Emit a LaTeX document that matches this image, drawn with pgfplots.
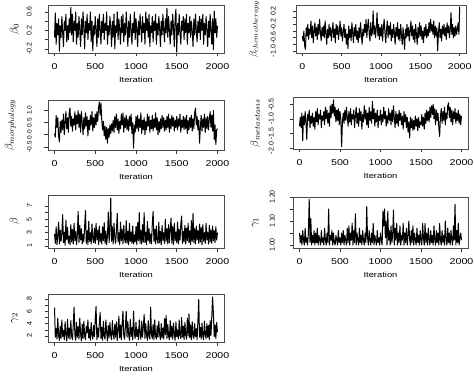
\documentclass[border=0pt]{standalone}
\usepackage{pgfplots}
\usepackage{pgfplotstable}
\pgfplotsset{compat=1.18}
\usepackage{fontspec}
\setmainfont{Liberation Sans}
\newfontfamily\xfont[FakeStretch=1.25]{Liberation Sans}
\pgfplotstableread{
it b0 bc bm bmt be g1 g2
0 0.05 -0.55 0.05 -1.25 2.8 1.05 6.6
10 0.58 -0.70 -0.10 -0.95 1.4 1.01 1.8
20 -0.10 -0.40 0.80 -1.30 3.9 1.04 3.2
30 0.35 -0.85 0.30 -0.80 1.2 1.00 1.5
40 0.10 -0.95 0.70 -1.75 2.6 1.06 4.9
50 0.45 -0.30 -0.05 -0.90 4.6 1.02 2.1
60 -0.25 -0.55 -0.30 -1.20 1.3 1.00 1.3
70 0.30 -0.20 0.55 -0.75 3.4 1.07 3.6
80 0.05 -0.65 0.10 -1.10 1.7 1.01 1.6
90 0.50 -0.35 0.60 -1.70 2.9 1.03 4.6
100 0.15 -0.50 0.20 -0.85 5.7 1.00 1.9
110 -0.15 -0.10 0.85 -1.05 1.5 1.05 2.9
120 0.40 -0.60 0.00 -0.70 3.1 1.19 1.4
130 0.20 -0.25 0.50 -1.30 1.1 1.01 4.3
140 0.55 -0.75 0.95 -0.90 4.9 1.11 2.2
150 -0.05 -0.40 0.25 -1.15 2.0 1.00 1.2
160 0.30 -0.15 0.70 -0.80 3.8 1.04 4.7
170 0.00 -0.55 0.10 -1.25 1.4 1.01 1.7
180 0.45 -0.30 0.90 -0.95 2.5 1.06 3.3
190 0.15 -0.65 1.10 -1.35 1.2 1.00 1.5
200 0.70 -0.20 0.35 -0.75 4.2 1.05 4.5
210 0.10 -0.50 0.75 -1.10 1.6 1.01 2.0
220 0.55 -0.05 0.15 -0.65 3.5 1.07 1.4
230 -0.05 -0.45 0.65 -1.20 1.3 1.00 3.8
240 0.40 -0.70 0.40 -0.85 4.4 1.04 6.7
250 0.20 -0.30 0.95 -1.00 1.8 1.02 2.1
260 0.60 -0.55 0.20 -0.70 3.2 1.00 1.3
270 -0.10 -0.25 0.80 -1.30 1.2 1.06 4.2
280 0.35 -0.60 0.45 -0.90 2.7 1.01 1.8
290 0.05 -0.10 1.00 -1.05 6.2 1.03 3.5
300 0.50 -0.45 0.30 -0.75 1.5 1.00 1.5
310 0.20 -0.80 0.85 -1.20 4.1 1.07 4.9
320 -0.15 -0.35 0.10 -0.60 1.9 1.02 2.3
330 0.45 -0.60 0.95 -1.00 3.6 1.00 1.2
340 0.10 -0.20 0.50 -0.70 1.3 1.05 3.9
350 0.60 -0.55 0.00 -1.15 2.8 1.01 1.6
360 0.25 -0.30 0.70 -0.80 1.6 1.15 4.4
370 -0.20 -0.70 0.25 -1.25 4.0 1.00 2.0
380 0.40 -0.40 0.90 -0.55 6.3 1.04 1.4
390 0.15 -0.15 0.35 -0.95 1.4 1.02 3.6
400 0.55 -0.60 0.75 -0.50 3.3 1.06 2.5
410 0.00 -0.35 -0.05 -0.80 1.2 1.00 4.6
420 0.35 -0.75 0.60 -0.35 4.7 1.05 1.7
430 0.20 -0.20 0.20 -0.90 1.7 1.01 3.1
440 0.60 -0.50 0.80 -0.60 3.0 1.00 1.3
450 -0.05 -0.25 0.40 -1.10 1.3 1.04 4.2
460 0.40 -0.65 0.95 -0.70 4.3 1.02 2.2
470 -0.24 -0.40 0.15 -1.05 2.1 1.00 1.5
480 0.30 -0.10 0.70 -0.65 1.5 1.06 3.7
490 0.10 -0.55 0.30 -1.20 3.7 1.01 1.9
500 0.50 -0.30 0.85 -0.75 1.4 1.03 4.8
510 0.20 -0.70 0.40 -1.00 4.4 1.00 6.8
520 -0.15 -0.45 0.95 -1.95 1.9 1.05 1.4
530 0.45 -0.20 0.55 -1.10 3.4 1.01 3.3
540 0.05 -0.60 1.10 -0.80 1.2 1.06 1.8
550 0.55 -0.35 1.35 -1.15 4.0 1.00 4.1
560 0.25 -0.80 0.80 -0.70 1.6 1.04 5.8
570 -0.10 -0.50 1.30 -1.05 2.9 1.02 1.6
580 0.40 -0.93 0.60 -0.60 1.3 1.00 3.4
590 0.15 -0.25 0.20 -0.95 3.9 1.07 1.3
600 0.55 -0.60 0.55 -1.25 1.8 1.01 4.4
610 0.00 -0.35 -0.05 -0.75 4.5 1.08 2.0
620 0.35 -0.70 0.35 -1.10 1.4 1.00 1.5
630 0.20 -0.15 -0.20 -0.65 3.2 1.05 4.6
640 0.60 -0.45 0.30 -1.20 1.2 1.02 2.6
650 -0.10 -0.75 -0.35 -0.85 2.6 1.09 1.2
660 0.30 -0.30 0.25 -1.00 6.1 1.00 3.7
670 0.10 -0.55 -0.10 -0.70 1.5 1.06 1.7
680 0.50 -0.20 0.40 -1.30 3.6 1.01 4.2
690 0.25 -0.65 0.05 -0.90 8.2 1.13 2.1
700 -0.15 -0.40 0.45 -0.60 1.7 1.00 1.4
710 0.40 -0.75 0.15 -1.15 3.9 1.05 4.5
720 0.05 -0.30 0.60 -0.80 1.3 1.02 2.3
730 0.55 -0.60 0.10 -1.25 4.4 1.00 1.5
740 -0.20 -0.15 0.75 -0.65 2.2 1.07 3.9
750 0.30 -0.50 0.30 -1.05 1.4 1.01 1.8
760 0.15 -0.80 0.85 -0.75 3.3 1.04 4.3
770 0.60 -0.35 0.20 -1.35 5.9 1.00 1.3
780 0.00 -0.55 0.65 -0.85 1.6 1.06 3.0
790 0.45 -0.20 0.05 -1.10 3.0 1.02 5.2
800 0.20 -0.45 0.55 -0.55 1.2 1.00 1.7
810 -0.10 -0.05 0.25 -1.00 4.6 1.05 3.8
820 0.50 -0.60 0.85 -0.70 1.8 1.01 1.4
830 0.15 -0.25 0.40 -1.20 3.5 1.16 4.1
840 0.55 -0.05 0.90 -0.80 1.3 1.03 6.0
850 -0.05 -0.50 0.10 -1.30 4.1 1.00 2.0
860 0.35 -0.70 0.70 -0.60 2.0 1.06 1.5
870 0.10 -0.15 0.30 -1.05 1.5 1.02 3.6
880 0.60 -0.55 0.80 -0.75 4.8 1.00 6.0
890 0.25 -0.45 0.20 -1.15 1.4 1.05 1.8
900 -0.15 0.20 0.65 -0.40 3.2 1.01 4.3
910 0.40 -0.50 0.15 -1.00 1.2 1.09 2.2
920 0.05 -0.25 0.75 -0.65 4.4 1.00 1.3
930 0.55 -0.60 0.35 -1.25 1.7 1.04 4.7
940 0.20 -0.30 0.85 -0.80 3.1 1.02 1.9
950 -0.10 0.15 0.05 -1.10 1.4 1.00 3.4
960 0.35 -0.55 0.50 -0.70 4.0 1.06 1.4
970 0.15 -0.20 -0.55 -1.30 1.3 1.01 6.0
980 0.60 -0.65 0.40 -0.90 2.7 1.03 2.4
990 0.00 -0.30 0.10 -1.05 1.6 1.00 1.6
1000 0.45 -0.55 0.75 -0.70 3.9 1.05 4.2
1010 0.20 -0.20 0.25 -1.20 1.2 1.02 1.9
1020 -0.15 -0.70 0.80 -0.85 4.5 1.00 3.1
1030 0.40 -0.30 0.15 -1.10 1.8 1.14 1.4
1040 0.10 -0.05 0.65 -0.60 6.0 1.08 4.6
1050 0.55 -0.45 0.30 -1.00 1.4 1.15 2.3
1060 0.25 -0.75 0.90 -0.75 3.4 1.03 1.5
1070 -0.05 -0.35 0.05 -1.25 1.3 1.10 4.4
1080 0.50 -0.10 0.60 -0.90 4.2 1.00 1.8
1090 0.15 -0.60 0.20 -1.15 1.6 1.14 3.5
1100 0.35 -0.25 0.70 -0.65 6.0 1.02 5.5
1110 -0.10 -0.50 0.00 -1.05 1.5 1.06 1.6
1120 0.60 -0.15 0.55 -0.80 3.1 1.00 4.0
1130 0.20 -0.70 0.20 -1.20 1.2 1.08 2.1
1140 0.45 -0.35 0.85 -0.70 4.7 1.01 1.3
1150 0.05 -0.60 0.35 -1.10 1.8 1.04 4.5
1160 0.55 -0.20 0.75 -0.55 3.6 1.145 2.0
1170 -0.15 -0.45 0.10 -0.95 1.4 1.00 1.5
1180 0.30 -0.80 0.60 -1.30 2.8 1.07 6.7
1190 0.15 -0.30 0.25 -0.75 1.3 1.02 2.2
1200 0.50 -0.55 0.80 -1.15 4.3 1.09 1.6
1210 -0.05 -0.15 0.15 -0.85 6.2 1.00 3.9
1220 0.40 -0.65 0.65 -1.25 1.7 1.05 1.4
1230 0.20 -0.35 0.30 -0.70 3.5 1.01 4.6
1240 0.55 -0.70 0.90 -1.05 1.3 1.08 2.0
1250 -0.10 -0.20 0.20 -0.80 4.0 1.00 1.5
1260 0.35 -0.50 0.70 -1.20 1.9 1.04 3.7
1270 0.10 -0.80 0.00 -0.90 1.4 1.02 1.8
1280 0.50 -0.30 0.55 -1.35 4.6 1.09 4.4
1290 0.25 -0.60 0.10 -0.75 1.5 1.00 2.3
1300 -0.15 -0.95 0.65 -1.10 3.2 1.05 1.4
1310 0.40 -0.35 0.25 -0.85 1.2 1.01 4.0
1320 0.10 -0.60 0.80 -1.30 4.1 1.07 1.7
1330 0.55 -0.20 0.30 -0.95 1.8 1.00 3.3
1340 0.20 -0.55 0.70 -1.45 3.0 1.04 1.5
1350 -0.05 -0.30 0.15 -1.10 1.4 1.10 4.8
1360 0.45 -0.70 0.60 -1.65 5.0 1.02 2.2
1370 0.15 -0.40 0.20 -0.95 1.7 1.00 5.3
1380 0.68 -0.10 0.75 -1.30 3.6 1.06 1.6
1390 0.05 -0.55 0.30 -1.00 1.3 1.01 3.9
1400 0.50 -0.25 0.85 -1.40 4.2 1.08 2.0
1410 0.20 -0.65 0.10 -1.05 1.5 1.00 1.4
1420 -0.10 -0.35 0.65 -1.35 3.4 1.05 4.5
1430 0.40 -0.75 0.25 -0.90 5.2 1.02 1.8
1440 0.10 -0.20 0.80 -1.25 1.4 1.00 3.6
1450 0.55 -0.50 0.35 -1.00 3.9 1.07 1.5
1460 0.25 -0.80 0.70 -1.40 1.2 1.01 4.1
1470 -0.15 -0.30 0.15 -0.95 4.4 1.04 2.3
1480 0.45 -0.60 0.60 -1.30 1.8 1.00 1.3
1490 0.66 -0.15 0.30 -1.10 3.1 1.06 4.3
1500 -0.27 -0.55 0.75 -1.20 1.5 1.02 1.9
1510 0.35 -0.25 0.20 -0.85 4.6 1.00 3.0
1520 0.10 -0.65 0.65 -1.25 1.3 1.09 1.5
1530 0.55 -0.40 0.35 -0.95 3.5 1.03 4.6
1540 0.15 -0.75 0.85 -1.35 1.9 1.00 2.1
1550 -0.10 -0.30 0.10 -0.80 4.3 1.09 1.6
1560 0.40 -0.55 0.60 -1.15 5.5 1.01 5.0
1570 0.20 -0.20 0.30 -0.70 1.4 1.05 1.8
1580 0.50 -0.60 0.75 -1.05 3.2 1.00 3.6
1590 0.00 -0.35 0.20 -0.75 1.6 1.07 1.4
1600 0.45 -0.55 0.70 -1.10 4.1 1.02 4.2
1610 0.15 -0.15 0.25 -0.60 1.3 1.00 2.2
1620 0.55 -0.45 0.80 -0.95 3.7 1.06 1.5
1630 -0.10 -0.05 0.05 -0.55 1.8 1.01 4.9
1640 0.35 -0.40 0.60 -0.85 4.4 1.04 2.0
1650 0.15 -0.20 0.20 -0.50 1.5 1.00 5.6
1660 0.50 -0.50 0.70 -1.00 3.3 1.08 1.7
1670 0.05 -0.10 0.30 -0.65 1.2 1.02 3.8
1680 0.40 -0.60 0.80 -1.20 4.8 1.00 1.4
1690 0.20 -0.25 0.15 -0.70 1.7 1.06 4.3
1700 -0.15 -0.55 0.65 -1.05 5.9 1.01 2.1
1710 0.45 -0.30 0.25 -0.80 1.5 1.05 1.6
1720 0.10 -1.00 0.90 -1.30 3.6 1.00 4.0
1730 0.55 -0.45 1.10 -1.60 1.3 1.09 1.9
1740 0.20 -0.15 0.40 -0.90 4.0 1.02 3.2
1750 -0.05 -0.60 0.75 -0.65 1.9 1.00 1.4
1760 0.40 -0.35 0.20 -1.15 3.3 1.06 4.6
1770 0.15 -0.70 0.60 -0.75 1.4 1.01 7.9
1780 0.50 -0.25 -0.35 -1.05 4.3 1.04 1.8
1790 0.00 -0.50 0.30 -0.60 1.6 1.00 3.4
1800 0.45 -0.20 0.80 -1.20 3.8 1.10 1.5
1810 0.20 -0.55 0.15 -0.80 1.2 1.02 4.1
1820 0.55 -0.30 0.65 -1.00 4.2 1.00 2.0
1830 -0.10 -0.65 0.30 -0.55 1.7 1.07 1.4
1840 0.35 -0.15 0.85 -0.45 3.0 1.01 4.4
1850 0.10 -0.45 0.10 -0.95 1.4 1.05 2.2
1860 0.50 -0.25 0.70 -0.60 4.4 1.00 1.6
1870 0.20 -0.60 0.25 -1.10 1.9 1.06 4.0
1880 -0.15 -0.35 0.75 -0.70 3.1 1.02 1.8
1890 0.40 0.15 0.20 -1.20 1.3 1.00 3.7
1900 0.05 -0.50 0.65 -0.75 4.1 1.08 1.4
1910 0.55 -0.20 0.95 -1.00 1.6 1.02 4.5
1920 0.20 -0.60 0.30 -0.65 3.4 1.17 2.1
1930 -0.10 -0.30 0.80 -1.15 1.4 1.00 5.1
1940 0.45 -0.55 0.15 -0.80 4.0 1.06 8.3
1950 -0.22 -0.25 1.00 -1.05 1.8 1.01 5.6
1960 0.62 -0.50 -0.20 -0.70 3.3 1.09 1.9
1970 0.15 -0.35 0.40 -1.15 1.5 1.00 3.8
1980 0.45 -0.15 -0.40 -0.85 3.9 1.03 1.6
1990 0.05 -0.50 0.20 -1.20 1.9 1.05 4.2
2000 0.30 0.33 0.25 -0.90 3.0 1.02 2.6
}\trace
\pgfplotsset{
  tr/.style={
    scale only axis, anchor=south west,
    xmin=-80, xmax=2080,
    xtick={0,500,1000,1500,2000},
    xticklabels={0,500,1000,1500,2000},
    tick pos=left, tick align=outside,
    major tick length=3.5pt,
    tick style={black!80, line width=0.5pt},
    axis line style={black!70, line width=0.6pt},
    every tick label/.append style={inner sep=0pt},
    xticklabel style={anchor=north, font=\xfont\fontsize{8.5}{10}\selectfont},
    xticklabel shift=7pt,
    yticklabel style={rotate=90, anchor=south, font=\fontsize{7}{8}\selectfont},
    yticklabel shift=12.5pt,
    xlabel={Iteration},
    xlabel style={at={(axis description cs:0.5,0)}, anchor=center, yshift=-27pt, font=\xfont\fontsize{7.5}{9}\selectfont},
    ylabel style={anchor=center, font=\fontsize{11}{13}\selectfont},
  },
  tl/.style={line width=1.0pt, black, line join=round},
}
\begin{document}
\begin{tikzpicture}
\path[use as bounding box] (0,0) rectangle (474pt,378pt);
% panel 1
\begin{axis}[tr, at={(48pt,325pt)}, width=176pt, height=48pt,
  ymin=-0.29, ymax=0.75, ytick={-0.2,0,0.2,0.4,0.6}, yticklabels={-0.2,,0.2,,0.6},
  ylabel={$\beta_0$}, ylabel style={at={(axis description cs:-0.19,0.5)}}]
\addplot[tl] table[x=it, y=b0] {\trace};
\end{axis}
% panel 2
\begin{axis}[tr, at={(296pt,325pt)}, width=170pt, height=48pt,
  ymin=-1.06, ymax=0.38, ytick={-1.0,-0.8,-0.6,-0.4,-0.2,0,0.2}, yticklabels={-1.0,,-0.6,,-0.2,,0.2},
  yticklabel shift=16.5pt,
  ylabel={$\beta_{chemotherapy}$}, ylabel style={at={(axis description cs:-0.245,0.5)}, font=\fontsize{10}{12}\selectfont}]
\addplot[tl] table[x=it, y=bc] {\trace};
\end{axis}
% panel 3
\begin{axis}[tr, at={(48pt,228pt)}, width=176pt, height=50pt,
  ymin=-0.63, ymax=1.43, ytick={-0.5,0,0.5,1.0}, yticklabels={-0.5,0.0,0.5,1.0},
  yticklabel style={font=\fontsize{6.5}{8}\selectfont},
  ylabel={$\beta_{morphology}$}, ylabel style={at={(axis description cs:-0.215,0.5)}}]
\addplot[tl] table[x=it, y=bm] {\trace};
\end{axis}
% panel 4
\begin{axis}[tr, at={(293pt,229pt)}, width=175pt, height=52pt,
  ymin=-2.03, ymax=-0.25, ytick={-2.0,-1.5,-1.0,-0.5}, yticklabels={-2.0,-1.5,-1.0,-0.5},
  yticklabel shift=15.5pt,
  ylabel={$\beta_{metastasis}$}, ylabel style={at={(axis description cs:-0.215,0.5)}}]
\addplot[tl] table[x=it, y=bmt] {\trace};
\end{axis}
% panel 5
\begin{axis}[tr, at={(48pt,130pt)}, width=176pt, height=53pt,
  ymin=0.7, ymax=8.65, ytick={1,2,3,4,5,6,7}, yticklabels={1,,3,,5,,7},
  ylabel={$\beta$}, ylabel style={at={(axis description cs:-0.19,0.5)}}]
\addplot[tl] table[x=it, y=be] {\trace};
\end{axis}
% panel 6
\begin{axis}[tr, at={(293pt,130pt)}, width=175pt, height=51pt,
  ymin=0.9875, ymax=1.20, ytick={1.00,1.05,1.10,1.15,1.20}, yticklabels={1.00,,1.10,,1.20},
  yticklabel shift=14.5pt,
  ylabel={$\gamma_1$}, ylabel style={at={(axis description cs:-0.215,0.5)}}]
\addplot[tl] table[x=it, y=g1] {\trace};
\end{axis}
% panel 7
\begin{axis}[tr, at={(48pt,36pt)}, width=176pt, height=48pt,
  ymin=1.03, ymax=8.8, ytick={2,3,4,5,6,7,8}, yticklabels={2,,4,,6,,8},
  ylabel={$\gamma_2$}, ylabel style={at={(axis description cs:-0.19,0.5)}}]
\addplot[tl] table[x=it, y=g2] {\trace};
\end{axis}
\end{tikzpicture}
\end{document}
